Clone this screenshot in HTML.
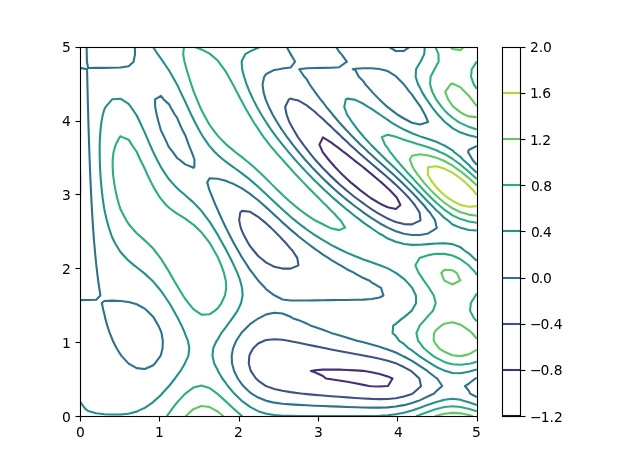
<!DOCTYPE html>
<html lang="en">
<head>
<meta charset="utf-8">
<title>Contour plot</title>
<style>
html,body{margin:0;padding:0;background:#fff;}
body{width:640px;height:458px;overflow:hidden;}
svg{display:block;}
text{font-family:"DejaVu Sans","Liberation Sans",sans-serif;font-size:13.889px;fill:#000;}
.c{fill:none;stroke-width:2.083;stroke-linejoin:round;stroke-linecap:butt;}
.s{fill:none;stroke:#000;stroke-width:1.111;stroke-linecap:square;}
.t{fill:none;stroke:#000;stroke-width:1.111;stroke-linecap:butt;}
</style>
</head>
<body>
<svg width="640" height="458" viewBox="0 0 640 458">
<filter id="jf" x="0" y="0" width="640" height="458" filterUnits="userSpaceOnUse" color-interpolation-filters="sRGB">
<feColorMatrix in="SourceGraphic" type="matrix" values="0.299 0.587 0.114 0 0 0.299 0.587 0.114 0 0 0.299 0.587 0.114 0 0 0 0 0 1 0" result="luma"/>
<feGaussianBlur in="SourceGraphic" stdDeviation="1.1" result="soft"/>
<feColorMatrix in="soft" type="matrix" values="0.3505 -0.2935 -0.057 0 0.5 -0.1495 0.2065 -0.057 0 0.5 -0.1495 -0.2935 0.443 0 0.5 0 0 0 1 0" result="chroma"/>
<feComposite in="luma" in2="chroma" operator="arithmetic" k1="0" k2="1" k3="2" k4="-1"/>
</filter>
<g filter="url(#jf)">
<rect x="-20" y="-20" width="680" height="498" fill="#ffffff"/>
<clipPath id="axclip"><rect x="80" y="47" width="397" height="369.5"/></clipPath>
<g clip-path="url(#axclip)">
<path class="c" stroke="#472d7b" d="M371.53 386.21L369.03 386.03L363.43 384.89L355.33 383.25L347.23 381.81L339.13 380.50L331.04 379.26L325.91 378.49L322.94 375.93L314.84 372.18L310.90 370.94L314.84 370.23L322.94 369.60L331.04 369.48L339.13 369.64L347.23 369.96L355.33 370.36L363.43 370.86L364.44 370.94L371.53 372.25L379.62 374.02L387.72 376.40L392.55 378.49L387.96 386.03L387.72 386.07L379.62 386.48ZM387.72 207.24L382.67 205.00L379.62 203.35L371.53 198.51L369.95 197.46L363.43 192.58L359.83 189.91L355.33 186.17L350.71 182.37L347.23 179.17L342.53 174.83L339.13 171.36L335.23 167.29L331.04 162.52L328.69 159.74L322.94 152.47L322.74 152.20L319.39 144.66L322.94 137.46L331.04 142.41L333.94 144.66L339.13 148.36L343.97 152.20L347.23 154.67L353.64 159.74L355.33 161.07L363.30 167.29L363.43 167.39L371.53 174.09L372.43 174.83L379.62 180.93L381.35 182.37L387.72 188.17L389.64 189.91L395.82 196.45L396.76 197.46L400.42 205.00L395.82 208.94L387.72 207.24"/>
<path class="c" stroke="#3b528b" d="M80.00 169.65L80.13 174.83L80.21 182.37L80.18 189.91L80.04 197.46L80.00 198.48M306.74 394.11L301.30 393.57L298.64 393.24L290.55 392.13L282.45 390.79L274.35 388.94L266.25 386.14L266.04 386.03L258.16 380.61L255.94 378.49L250.80 370.94L250.06 368.50L248.81 363.40L249.31 355.86L250.06 353.88L253.22 348.31L258.16 343.56L264.15 340.77L266.25 340.00L274.35 339.21L282.45 339.82L288.18 340.77L290.55 341.15L298.64 342.78L306.74 344.44L314.84 346.11L322.94 347.76L325.57 348.31L331.04 349.43L339.13 351.03L347.23 352.56L355.33 354.03L363.43 355.50L365.30 355.86L371.53 357.06L379.62 358.74L387.72 360.73L395.82 363.28L396.11 363.40L403.92 367.05L410.96 370.94L412.02 371.81L419.37 378.49L420.11 381.85L421.04 386.03L420.11 387.01L412.80 393.57L412.02 393.91L403.92 396.54L395.82 398.20L387.72 398.99L379.62 399.15L371.53 398.91L363.43 398.48L355.33 397.97L347.23 397.41L339.13 396.82L331.04 396.20L322.94 395.54L314.84 394.85ZM274.35 266.73L271.58 265.34L266.25 262.60L260.28 257.80L258.16 256.03L253.38 250.26L250.06 246.10L248.02 242.71L243.92 235.17L241.96 230.97L240.70 227.63L239.13 220.09L240.27 212.54L241.96 210.88L250.06 211.74L251.31 212.54L258.16 216.80L262.20 220.09L266.25 223.42L270.78 227.63L274.35 231.12L278.44 235.17L282.45 239.55L285.58 242.71L290.55 248.64L292.13 250.26L297.25 257.80L298.46 265.34L290.55 268.62L282.45 268.60ZM395.82 222.03L391.19 220.09L387.72 218.55L379.62 214.20L376.97 212.54L371.53 209.05L365.57 205.00L363.43 203.47L355.33 197.51L355.27 197.46L347.23 190.95L345.99 189.91L339.13 183.93L337.40 182.37L331.04 176.37L329.44 174.83L322.94 168.22L322.04 167.29L315.21 159.74L314.84 159.30L309.06 152.20L306.74 149.20L303.31 144.66L298.64 138.12L297.94 137.11L293.47 129.57L290.55 124.23L289.37 122.03L286.58 114.49L285.12 106.94L288.88 99.40L290.55 98.59L293.64 99.40L298.64 100.54L306.74 105.31L308.59 106.94L314.84 111.72L317.67 114.49L322.94 118.99L325.92 122.03L331.04 126.64L333.90 129.57L339.13 134.37L341.87 137.11L347.23 142.01L349.97 144.66L355.33 149.46L358.28 152.20L363.43 156.69L366.86 159.74L371.53 163.72L375.67 167.29L379.62 170.62L384.55 174.83L387.72 177.56L393.19 182.37L395.82 184.78L401.26 189.91L403.92 192.64L408.51 197.46L412.02 201.70L414.78 205.00L419.56 212.54L420.11 217.06L420.53 220.09L420.11 220.62L412.02 224.40L403.92 224.11Z"/>
<path class="c" stroke="#2c728e" d="M476.80 397.06L470.14 393.57L468.70 390.63L464.97 386.03L468.70 383.74L475.31 378.49L476.80 377.95M476.80 164.89L472.46 159.74L468.70 153.05L468.02 152.20L468.70 149.97L476.80 145.97M80.00 67.86L87.08 69.23L87.24 76.77L87.41 84.31L87.59 91.86L87.77 99.40L87.97 106.94L88.10 111.41L88.18 114.49L88.39 122.03L88.61 129.57L88.85 137.11L89.10 144.66L89.36 152.20L89.63 159.74L89.92 167.29L90.23 174.83L90.56 182.37L90.91 189.91L91.28 197.46L91.68 205.00L92.11 212.54L92.57 220.09L93.07 227.63L93.61 235.17L94.21 242.71L94.85 250.26L95.56 257.80L96.20 264.14L96.35 265.34L97.21 272.89L98.16 280.43L99.23 287.97L100.40 295.51L96.20 299.69L88.10 300.01L80.00 300.09M134.84 46.60L135.03 54.14L133.62 61.69L128.59 66.28L120.49 67.57L112.39 67.82L104.29 67.87L96.20 67.90L88.10 68.03L86.93 61.69L86.78 54.14L86.64 46.60M335.97 46.60L339.13 51.82L341.35 54.14L346.87 61.69L339.13 67.26L331.04 67.67L322.94 67.87L314.84 68.04L306.74 68.30L299.24 69.23L304.40 76.77L306.74 79.14L309.57 84.31L314.84 91.76L314.89 91.86L320.46 99.40L322.94 102.25L326.35 106.94L331.04 112.49L332.53 114.49L338.97 122.03L339.13 122.19L345.77 129.57L347.23 131.03L352.96 137.11L355.33 139.41L360.53 144.66L363.43 147.35L368.49 152.20L371.53 154.91L376.77 159.74L379.62 162.22L385.24 167.29L387.72 169.43L393.65 174.83L395.82 176.75L401.78 182.37L403.92 184.39L409.50 189.91L412.02 192.50L416.77 197.46L420.11 201.23L423.61 205.00L428.21 210.74L429.88 212.54L434.96 220.09L436.31 226.05L436.87 227.63L436.31 228.29L428.21 233.42L420.11 235.01L412.02 234.96L403.92 233.68L395.82 231.27L387.85 227.63L387.72 227.57L379.62 223.21L374.80 220.09L371.53 218.05L363.62 212.54L363.43 212.41L355.33 206.49L353.45 205.00L347.23 200.13L344.02 197.46L339.13 193.35L335.23 189.91L331.04 186.14L326.99 182.37L322.94 178.45L319.27 174.83L314.84 170.24L312.01 167.29L306.74 161.46L305.19 159.74L298.78 152.20L298.64 152.03L292.75 144.66L290.55 141.69L287.08 137.11L282.45 130.50L281.78 129.57L277.00 122.03L274.35 117.45L272.61 114.49L268.87 106.94L266.25 100.92L265.60 99.40L263.46 91.86L262.56 84.31L264.18 76.77L266.25 73.99L274.35 69.92L279.11 69.23L282.45 68.56L290.55 67.52L295.14 61.69L290.63 54.14L290.55 54.05L286.46 46.60M409.95 46.60L403.92 50.86L395.82 51.00L388.51 46.60M274.35 402.65L267.59 401.11L266.25 400.78L258.16 397.53L251.63 393.57L250.06 392.44L243.33 386.03L241.96 384.35L237.83 378.49L234.12 370.94L233.86 369.99L232.07 363.40L231.69 355.86L233.05 348.31L233.86 346.26L236.27 340.77L241.22 333.23L241.96 332.27L248.52 325.69L250.06 324.10L258.16 318.51L259.18 318.14L266.25 314.38L274.35 312.75L282.45 313.50L290.55 316.73L292.64 318.14L298.64 320.14L306.74 323.56L310.85 325.69L314.84 326.95L322.94 329.73L331.04 332.89L331.84 333.23L339.13 335.28L347.23 337.66L355.33 340.22L356.98 340.77L363.43 342.33L371.53 344.40L379.62 346.78L383.75 348.31L387.72 349.48L395.82 352.53L402.51 355.86L403.92 356.48L412.02 360.94L415.91 363.40L420.11 366.17L427.34 370.94L428.21 371.73L436.31 378.02L437.18 378.49L442.25 386.03L436.31 391.16L434.10 393.57L428.21 396.21L420.11 400.10L417.76 401.11L412.02 403.02L403.92 405.14L395.82 406.57L387.72 407.35L379.62 407.64L371.53 407.62L363.43 407.45L355.33 407.21L347.23 406.94L339.13 406.65L331.04 406.34L322.94 406.01L314.84 405.67L306.74 405.29L298.64 404.88L290.55 404.39L282.45 403.72L274.35 402.65M128.59 363.54L128.43 363.40L121.47 355.86L120.49 354.47L116.61 348.31L112.80 340.77L112.39 339.69L109.79 333.23L107.30 325.69L105.18 318.14L104.29 313.61L103.37 310.60L101.85 303.06L104.29 301.00L112.39 300.61L120.49 300.94L128.59 301.94L132.41 303.06L136.69 304.27L144.78 308.70L146.86 310.60L152.88 316.44L154.05 318.14L158.41 325.69L160.98 331.41L161.58 333.23L162.81 340.77L162.58 348.31L160.98 354.71L160.51 355.86L155.00 363.40L152.88 365.57L144.78 369.04L136.69 368.14ZM282.45 299.52L274.80 295.51L274.35 295.37L266.25 289.44L265.24 287.97L258.16 280.52L258.10 280.43L252.44 272.89L250.06 270.00L247.17 265.34L242.20 257.80L241.96 257.44L237.89 250.26L233.86 243.28L233.56 242.71L229.70 235.17L225.83 227.63L225.76 227.48L222.29 220.09L218.82 212.54L217.67 209.69L215.49 205.00L212.38 197.46L209.57 190.37L209.33 189.91L207.24 182.37L209.57 178.23L217.67 178.71L225.76 180.81L229.40 182.37L233.86 184.07L241.96 188.36L244.16 189.91L250.06 193.83L254.55 197.46L258.16 200.25L263.51 205.00L266.25 207.37L271.83 212.54L274.35 214.86L280.01 220.09L282.45 222.37L288.37 227.63L290.55 229.62L297.19 235.17L298.64 236.46L306.67 242.71L306.74 242.77L314.84 248.87L316.99 250.26L322.94 254.59L328.26 257.80L331.04 259.81L339.13 264.57L340.68 265.34L347.23 269.48L354.38 272.89L355.33 273.56L363.43 278.05L369.09 280.43L371.53 282.28L379.62 287.09L381.09 287.97L383.43 295.51L379.62 297.48L371.53 299.08L363.43 299.62L355.33 299.83L347.23 299.96L339.13 300.07L331.04 300.16L322.94 300.25L314.84 300.35L306.74 300.45L298.64 300.53L290.55 300.44L282.45 299.52M193.37 167.76L192.47 167.29L185.27 164.38L179.57 159.74L177.18 158.10L172.94 152.20L169.08 147.38L167.72 144.66L164.28 137.11L160.98 130.48L160.66 129.57L158.55 122.03L156.69 114.49L155.18 106.94L155.03 99.40L160.98 95.95L163.71 99.40L169.08 104.36L170.45 106.94L174.77 114.49L177.18 117.94L178.90 122.03L182.23 129.57L185.27 135.34L185.98 137.11L188.65 144.66L191.74 152.20L193.37 156.52L194.50 159.74L194.29 167.29ZM412.02 122.72L410.50 122.03L403.92 118.49L397.26 114.49L395.82 113.43L387.72 107.15L387.45 106.94L379.62 99.66L379.31 99.40L372.01 91.86L371.53 91.16L365.24 84.31L363.43 81.24L358.82 76.77L355.33 70.02L352.73 69.23L355.33 68.75L363.43 68.29L371.53 68.30L379.62 68.96L380.58 69.23L387.72 71.05L395.82 76.13L396.31 76.77L403.78 84.31L403.92 84.43L409.57 91.86L412.02 94.69L415.17 99.40L420.11 106.06L420.69 106.94L424.87 114.49L428.10 122.03L420.11 124.59Z"/>
<path class="c" stroke="#21918c" d="M476.80 404.99L468.70 402.19L464.25 401.11L460.60 399.80L452.51 398.74L444.41 399.67L439.89 401.11L436.31 401.94L428.21 404.64L420.11 407.66L417.20 408.66L412.02 410.43L403.92 412.67L395.82 414.26L387.72 415.23L379.62 415.73L371.53 415.94L363.43 416.01L355.33 416.02L347.23 416.02L339.13 416.01L331.04 416.00L322.94 416.00L314.84 415.99L306.74 415.98L298.64 415.96L290.55 415.90L282.45 415.68L274.35 415.07L266.25 413.72L258.16 411.14L253.34 408.66L250.06 406.94L242.10 401.11L241.96 401.00L234.26 393.57L233.86 393.12L227.83 386.03L225.76 382.98L222.29 378.49L218.01 370.94L217.67 369.99L214.19 363.40L212.47 355.86L213.17 348.31L216.66 340.77L217.67 339.54L221.25 333.23L225.76 327.34L226.90 325.69L232.46 318.14L233.86 316.08L237.59 310.60L241.11 303.06L241.96 298.74L242.63 295.51L242.08 287.97L241.96 287.57L240.17 280.43L237.33 272.89L233.87 265.34L233.86 265.33L230.18 257.80L226.29 250.26L225.76 249.28L222.15 242.71L217.96 235.17L217.67 234.64L213.29 227.63L209.57 221.64L208.37 220.09L202.72 212.54L201.47 210.87L195.86 205.00L193.37 202.38L187.69 197.46L185.27 195.32L179.08 189.91L177.18 188.17L171.76 182.37L169.08 179.30L165.91 174.83L161.02 167.29L160.98 167.22L157.04 159.74L153.35 152.20L152.88 151.22L149.94 144.66L146.71 137.11L144.78 132.59L143.37 129.57L139.88 122.03L136.69 115.44L136.05 114.49L130.88 106.94L128.59 103.91L121.66 99.40L120.49 98.68L112.39 99.20L112.15 99.40L105.68 106.94L104.29 109.46L102.87 114.49L101.43 122.03L100.53 129.57L99.98 137.11L99.71 144.66L99.65 152.20L99.76 159.74L100.03 167.29L100.45 174.83L101.00 182.37L101.71 189.91L102.58 197.46L103.65 205.00L104.29 208.92L105.02 212.54L106.75 220.09L108.83 227.63L111.37 235.17L112.39 237.81L114.83 242.71L119.33 250.26L120.49 251.95L125.69 257.80L128.59 260.66L134.21 265.34L136.69 267.25L143.81 272.89L144.78 273.62L152.09 280.43L152.88 281.16L158.60 287.97L160.98 290.80L164.19 295.51L169.08 302.77L169.25 303.06L173.62 310.60L177.18 317.04L177.82 318.14L181.68 325.69L184.95 333.23L185.27 334.32L187.90 340.77L189.29 348.31L188.37 355.86L185.27 362.36L184.90 363.40L180.53 370.94L177.18 375.41L175.00 378.49L169.08 386.01L169.06 386.03L162.18 393.57L160.98 394.94L154.10 401.11L152.88 402.33L144.78 407.89L142.87 408.66L136.69 411.63L128.59 413.67L120.49 414.49L112.39 414.57L104.29 414.20L96.20 413.31L88.10 410.95L85.09 408.66L80.00 401.57M476.80 260.72L473.49 257.80L468.70 253.35L464.10 250.26L460.60 247.33L452.51 244.14L444.41 243.22L436.31 243.42L428.21 244.09L420.11 244.73L412.02 244.86L403.92 243.98L399.70 242.71L395.82 241.79L387.72 238.58L382.37 235.17L379.62 233.74L371.53 228.25L370.76 227.63L363.43 222.62L360.32 220.09L355.33 216.46L350.60 212.54L347.23 209.94L341.42 205.00L339.13 203.12L332.72 197.46L331.04 195.99L324.45 189.91L322.94 188.50L316.58 182.37L314.84 180.64L309.08 174.83L306.74 172.36L301.92 167.29L298.64 163.62L295.09 159.74L290.55 154.39L288.60 152.20L282.52 144.66L282.45 144.57L276.55 137.11L274.35 134.04L271.01 129.57L266.25 122.41L265.99 122.03L261.26 114.49L258.16 108.96L256.98 106.94L253.14 99.40L250.06 92.73L249.63 91.86L246.64 84.31L244.11 76.77L242.17 69.23L241.96 66.05L241.63 61.69L241.96 60.39L245.29 54.14L250.06 51.37L258.16 47.78L259.89 46.60M476.80 172.77L470.95 167.29L468.70 164.80L463.08 159.74L460.60 157.00L454.41 152.20L452.51 150.30L444.41 145.50L442.37 144.66L436.31 141.69L428.21 139.06L422.10 137.11L420.11 136.39L412.02 133.21L403.97 129.57L403.92 129.54L395.82 125.08L390.81 122.03L387.72 119.93L379.76 114.49L379.62 114.38L371.53 108.89L368.18 106.94L363.43 103.80L355.33 99.81L352.42 99.40L347.23 98.60L345.82 99.40L344.24 106.94L347.03 114.49L347.23 114.78L352.05 122.03L355.33 126.34L357.68 129.57L363.43 136.49L363.92 137.11L370.91 144.66L371.53 145.25L378.41 152.20L379.62 153.32L386.16 159.74L387.72 161.15L393.98 167.29L395.82 168.96L401.70 174.83L403.92 176.92L409.24 182.37L412.02 185.11L416.63 189.91L420.11 193.51L423.95 197.46L428.21 201.97L431.32 205.00L436.31 210.25L438.98 212.54L444.41 217.97L447.51 220.09L452.51 224.50L460.25 227.63L460.60 227.86L468.70 229.97L476.80 230.48M152.79 46.60L152.88 46.77L157.75 54.14L160.98 58.69L163.08 61.69L168.21 69.23L169.08 70.46L172.67 76.77L176.89 84.31L177.18 84.80L180.50 91.86L184.10 99.40L185.27 101.72L187.60 106.94L191.10 114.49L193.37 118.99L194.87 122.03L198.79 129.57L201.47 134.19L203.29 137.11L208.49 144.66L209.57 146.07L214.98 152.20L217.67 154.86L223.35 159.74L225.76 161.60L233.58 167.29L233.86 167.47L241.96 173.34L243.79 174.83L250.06 179.69L253.09 182.37L258.16 186.69L261.58 189.91L266.25 194.20L269.63 197.46L274.35 201.91L277.63 205.00L282.45 209.48L285.87 212.54L290.55 216.68L294.67 220.09L298.64 223.36L304.28 227.63L306.74 229.51L314.84 235.10L314.95 235.17L322.94 240.16L327.39 242.71L331.04 244.84L339.13 249.03L341.74 250.26L347.23 252.87L355.33 256.28L359.25 257.80L363.43 259.43L371.53 262.21L379.62 265.17L380.02 265.34L387.72 268.36L395.82 272.79L395.94 272.89L403.92 278.82L405.54 280.43L412.02 287.68L412.24 287.97L415.92 295.51L416.11 303.06L412.02 310.31L411.79 310.60L403.92 317.34L402.59 318.14L395.82 323.88L393.19 325.69L392.57 333.23L395.82 336.06L399.24 340.77L403.92 343.95L408.62 348.31L412.02 350.48L419.07 355.86L420.11 356.53L428.21 361.96L430.52 363.40L436.31 366.95L444.41 370.62L445.69 370.94L452.51 373.05L460.60 373.25L468.70 371.72L471.15 370.94L476.80 369.47M424.76 46.60L424.29 54.14L420.49 61.69L420.11 62.36L416.04 69.23L415.67 76.77L418.07 84.31L420.11 87.92L421.94 91.86L426.55 99.40L428.21 101.71L431.83 106.94L436.31 112.65L437.87 114.49L444.41 121.51L445.01 122.03L452.51 128.18L455.08 129.57L460.60 132.57L468.70 135.14L476.25 137.11L476.80 137.25"/>
<path class="c" stroke="#28ae80" d="M242.35 416.20L241.96 415.92L233.86 408.90L233.60 408.66L225.76 401.29L225.55 401.11L217.67 393.91L217.14 393.57L209.57 388.01L202.75 386.03L201.47 385.58L199.74 386.03L193.37 387.55L185.32 393.57L185.27 393.61L178.29 401.11L177.18 402.40L172.24 408.66L169.08 413.21L166.85 416.20M476.80 411.30L468.70 408.79L468.10 408.66L460.60 406.92L452.51 406.27L444.41 407.01L437.64 408.66L436.31 408.97L428.21 411.71L420.11 414.78L416.14 416.20M476.80 321.17L473.88 318.14L470.07 310.60L470.83 303.06L475.56 295.51L476.80 293.51M476.80 275.06L475.69 272.89L468.79 265.34L468.70 265.27L460.60 259.42L457.43 257.80L452.51 255.57L444.41 253.88L436.31 253.84L428.21 255.14L420.11 257.64L419.67 257.80L415.40 265.34L418.60 272.89L420.11 274.89L423.72 280.43L428.21 286.77L429.11 287.97L433.78 295.51L435.70 303.06L433.08 310.60L428.21 315.89L426.30 318.14L420.11 325.18L419.67 325.69L416.41 333.23L418.07 340.77L420.11 343.21L423.85 348.31L428.21 351.93L433.09 355.86L436.31 357.88L444.41 361.90L449.40 363.40L452.51 364.27L460.60 364.80L468.70 363.84L470.53 363.40L476.80 361.64M476.80 179.04L472.11 174.83L468.70 171.63L463.47 167.29L460.60 164.70L453.72 159.74L452.51 158.76L444.41 153.96L440.43 152.20L436.31 150.21L428.21 147.35L420.11 144.76L419.76 144.66L412.02 142.32L403.92 139.79L396.81 137.11L395.82 136.73L387.72 134.81L381.76 137.11L384.98 144.66L387.72 148.20L390.29 152.20L395.82 159.07L396.26 159.74L402.80 167.29L403.92 168.42L409.51 174.83L412.02 177.42L416.37 182.37L420.11 186.28L423.45 189.91L428.21 194.81L430.88 197.46L436.31 202.73L438.98 205.00L444.41 209.72L448.64 212.54L452.51 215.35L460.60 219.10L464.03 220.09L468.70 221.55L476.80 222.83M476.80 88.90L473.83 84.31L471.07 76.77L471.73 69.23L476.71 61.69L476.80 61.53M184.00 46.60L183.18 54.14L184.47 61.69L185.27 64.53L186.54 69.23L188.86 76.77L191.23 84.31L193.37 90.54L193.85 91.86L196.93 99.40L200.07 106.94L201.47 109.98L203.82 114.49L207.95 122.03L209.57 124.74L213.02 129.57L217.67 135.72L218.97 137.11L225.76 144.07L226.44 144.66L233.86 150.88L235.54 152.20L241.96 157.17L245.12 159.74L250.06 163.74L254.05 167.29L258.16 170.95L262.18 174.83L266.25 178.77L269.85 182.37L274.35 186.87L277.45 189.91L282.45 194.79L285.34 197.46L290.55 202.15L293.93 205.00L298.64 208.82L303.58 212.54L306.74 214.81L314.52 220.09L314.84 220.29L322.94 224.30L329.52 227.63L331.04 228.30L339.13 230.11L345.10 227.63L340.30 220.09L339.13 219.03L333.18 212.54L331.04 210.57L325.69 205.00L322.94 202.39L318.13 197.46L314.84 194.22L310.64 189.91L306.74 185.91L303.29 182.37L298.64 177.42L296.12 174.83L290.55 168.68L289.19 167.29L282.56 159.74L282.45 159.61L275.73 152.20L274.35 150.47L269.35 144.66L266.25 140.45L263.62 137.11L258.57 129.57L258.16 128.93L253.49 122.03L250.06 116.03L249.11 114.49L244.78 106.94L241.96 101.45L240.78 99.40L236.75 91.86L233.86 86.03L232.84 84.31L228.62 76.77L225.76 71.58L224.03 69.23L218.52 61.69L217.67 60.57L210.23 54.14L209.57 53.61L201.47 49.42L193.66 46.60M435.53 46.60L436.31 49.19L438.44 54.14L438.65 61.69L436.31 65.85L434.53 69.23L430.59 76.77L430.08 84.31L432.30 91.86L436.14 99.40L436.31 99.65L441.62 106.94L444.41 110.15L448.75 114.49L452.51 117.76L458.79 122.03L460.60 123.14L468.70 126.72L476.67 129.57L476.80 129.61M201.47 314.61L209.57 314.29L214.83 310.60L217.67 308.38L221.42 303.06L224.93 295.51L225.76 291.04L226.20 287.97L225.77 280.43L225.76 280.39L223.95 272.89L221.29 265.34L218.10 257.80L217.67 256.92L213.88 250.26L209.57 242.83L209.48 242.71L203.62 235.17L201.47 232.36L196.49 227.63L193.37 224.55L187.15 220.09L185.27 218.66L177.18 213.59L175.54 212.54L169.08 207.78L166.19 205.00L160.98 198.94L159.94 197.46L155.17 189.91L152.88 185.69L151.12 182.37L147.45 174.83L144.78 168.70L144.05 167.29L140.26 159.74L136.88 152.20L136.69 151.78L131.74 144.66L128.59 139.68L122.41 137.11L120.49 136.24L119.77 137.11L115.64 144.66L113.55 152.20L112.69 159.74L112.63 167.29L113.13 174.83L114.07 182.37L115.39 189.91L117.07 197.46L119.14 205.00L120.49 209.11L122.16 212.54L126.21 220.09L128.59 224.04L131.70 227.63L136.69 233.18L138.94 235.17L144.78 240.38L147.26 242.71L152.88 248.23L154.48 250.26L160.27 257.80L160.98 258.70L165.11 265.34L169.08 271.79L169.67 272.89L173.98 280.43L177.18 285.90L178.41 287.97L183.08 295.51L185.27 299.00L188.49 303.06L193.37 309.16L195.51 310.60Z"/>
<path class="c" stroke="#5ec962" d="M223.51 416.20L217.67 411.46L212.45 408.66L209.57 407.07L201.47 406.05L194.46 408.66L193.37 409.11L185.64 416.20M472.80 416.20L468.70 414.98L460.60 413.34L452.51 412.86L444.41 413.69L436.31 415.74L435.01 416.20M476.80 338.71L472.18 333.23L468.70 330.14L462.02 325.69L460.60 324.66L452.51 322.24L444.41 323.67L441.16 325.69L436.31 329.91L433.98 333.23L433.69 340.77L436.31 344.74L439.05 348.31L444.41 351.83L452.51 355.24L457.93 355.86L460.60 356.06L462.13 355.86L468.70 354.35L476.80 349.79M476.80 185.55L473.53 182.37L468.70 178.04L464.89 174.83L460.60 171.28L454.95 167.29L452.51 165.51L444.41 161.03L441.32 159.74L436.31 157.64L428.21 155.44L420.11 154.20L412.02 155.73L409.80 159.74L412.02 165.13L412.70 167.29L417.77 174.83L420.11 177.62L423.77 182.37L428.21 187.33L430.50 189.91L436.31 195.72L438.20 197.46L444.41 202.72L447.65 205.00L452.51 208.28L460.60 212.19L461.73 212.54L468.70 214.60L476.80 215.68M476.80 106.09L471.63 99.40L468.70 95.52L464.89 91.86L460.60 87.36L454.03 84.31L452.51 83.50L450.53 84.31L445.17 91.86L448.12 99.40L452.51 105.77L453.57 106.94L460.60 112.41L464.29 114.49L468.70 116.36L476.80 117.16M450.11 46.60L452.51 48.96L460.60 50.10L463.91 46.60M444.41 280.64L452.51 284.47L460.36 280.43L456.65 272.89L452.51 270.32L444.41 269.80L441.26 272.89L444.22 280.43Z"/>
<path class="c" stroke="#addc30" d="M476.80 195.10L472.99 189.91L468.70 185.69L465.32 182.37L460.60 178.50L455.61 174.83L452.51 172.75L444.41 168.67L439.93 167.29L436.31 166.28L428.21 167.19L428.08 167.29L427.76 174.83L428.21 175.52L432.43 182.37L436.31 187.04L438.79 189.91L444.41 195.08L447.40 197.46L452.51 200.88L460.51 205.00L460.60 205.04L468.70 206.71L476.80 206.11"/>
</g>
<g class="t">
<line x1="80.5" y1="416.5" x2="80.5" y2="421.500"/>
<line x1="159.5" y1="416.5" x2="159.5" y2="421.500"/>
<line x1="239.5" y1="416.5" x2="239.5" y2="421.500"/>
<line x1="318.5" y1="416.5" x2="318.5" y2="421.500"/>
<line x1="397.5" y1="416.5" x2="397.5" y2="421.500"/>
<line x1="477.5" y1="416.5" x2="477.5" y2="421.500"/>
<line x1="80.5" y1="416.5" x2="75.500" y2="416.5"/>
<line x1="80.5" y1="342.5" x2="75.500" y2="342.5"/>
<line x1="80.5" y1="268.5" x2="75.500" y2="268.5"/>
<line x1="80.5" y1="194.5" x2="75.500" y2="194.5"/>
<line x1="80.5" y1="121.5" x2="75.500" y2="121.5"/>
<line x1="80.5" y1="47.5" x2="75.500" y2="47.5"/>
</g>
<rect class="s" x="80.5" y="47.5" width="397.0" height="369.0"/>
<text x="76" y="437">0</text>
<text x="155" y="437">1</text>
<text x="234" y="437">2</text>
<text x="314" y="437">3</text>
<text x="394" y="437">4</text>
<text x="472" y="437">5</text>
<text x="62" y="422">0</text>
<text x="62" y="348">1</text>
<text x="62" y="274">2</text>
<text x="62" y="200">3</text>
<text x="62" y="126">4</text>
<text x="62" y="52">5</text>
<g class="c">
<line x1="502.5" y1="416.0" x2="520.5" y2="416.0" stroke="#440154"/>
<line x1="502.5" y1="370.0" x2="520.5" y2="370.0" stroke="#472d7b"/>
<line x1="502.5" y1="324.0" x2="520.5" y2="324.0" stroke="#3b528b"/>
<line x1="502.5" y1="278.0" x2="520.5" y2="278.0" stroke="#2c728e"/>
<line x1="502.5" y1="231.0" x2="520.5" y2="231.0" stroke="#21918c"/>
<line x1="502.5" y1="185.0" x2="520.5" y2="185.0" stroke="#28ae80"/>
<line x1="502.5" y1="139.0" x2="520.5" y2="139.0" stroke="#5ec962"/>
<line x1="502.5" y1="93.0" x2="520.5" y2="93.0" stroke="#addc30"/>
</g>
<rect class="s" x="502.5" y="47.5" width="18.0" height="369.0"/>
<g class="t">
<line x1="520.5" y1="416.5" x2="525.500" y2="416.5"/>
<line x1="520.5" y1="370.5" x2="525.500" y2="370.5"/>
<line x1="520.5" y1="324.5" x2="525.500" y2="324.5"/>
<line x1="520.5" y1="278.5" x2="525.500" y2="278.5"/>
<line x1="520.5" y1="231.5" x2="525.500" y2="231.5"/>
<line x1="520.5" y1="185.5" x2="525.500" y2="185.5"/>
<line x1="520.5" y1="139.5" x2="525.500" y2="139.5"/>
<line x1="520.5" y1="93.5" x2="525.500" y2="93.5"/>
<line x1="520.5" y1="47.5" x2="525.500" y2="47.5"/>
</g>
<text x="530 540.75 549.5 554" y="422">−1.2</text>
<text x="530 540.5 549.25 553.75" y="375">−0.8</text>
<text x="530 540.5 549.25 553.75" y="329">−0.4</text>
<text x="531 538.75 543" y="283">0.0</text>
<text x="531 538.75 543" y="237">0.4</text>
<text x="531 538.75 543.25" y="191">0.8</text>
<text x="530 537.75 542.25" y="145">1.2</text>
<text x="530 537.75 542.25" y="98">1.6</text>
<text x="530 538.75 543" y="52">2.0</text>
</g>
</svg>
</body>
</html>
